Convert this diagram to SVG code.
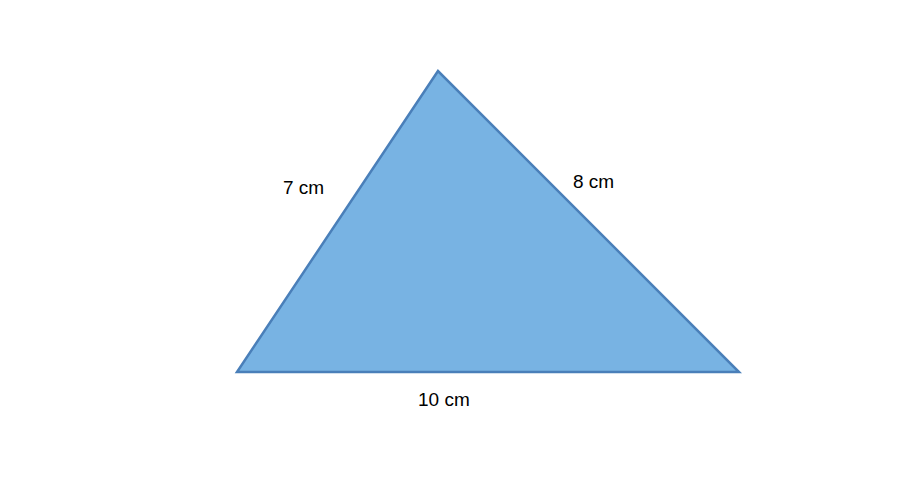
<svg xmlns="http://www.w3.org/2000/svg" width="917" height="502" viewBox="0 0 917 502">
<style>
.lbl{font-family:"Liberation Sans",Arial,sans-serif;font-size:19px;fill:#000}
</style>
<rect width="917" height="502" fill="#fff"/>
<g id="triangle">
<polygon points="438,71 237,372 739,372" fill="#78b3e3" stroke="#4a7fb9" stroke-width="2.5" stroke-linejoin="miter"/>
</g>
<g id="labels">
<text class="lbl" x="283" y="194">7 cm</text>
<text class="lbl" x="573" y="188">8 cm</text>
<text class="lbl" x="418" y="406">10 cm</text>
</g>
</svg>
